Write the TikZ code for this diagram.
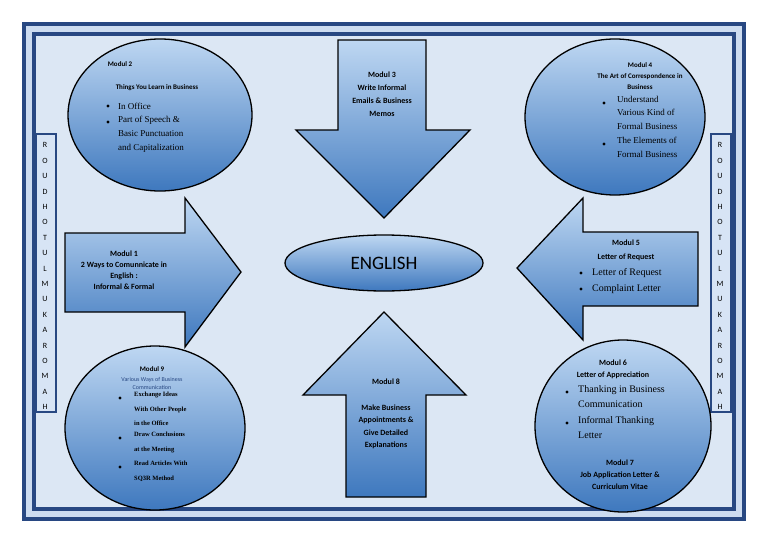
\documentclass[tikz,border=0pt]{standalone}
\usepackage{fontspec}
\usetikzlibrary{shapes.geometric}
\setmainfont{Liberation Serif}
\newfontfamily\calf{Carlito}
\definecolor{frm}{RGB}{40,72,130}
\definecolor{band}{RGB}{205,220,240}
\definecolor{bgc}{RGB}{220,231,244}
\definecolor{gtop}{RGB}{190,215,242}
\definecolor{gbot}{RGB}{62,120,190}
\definecolor{bar}{RGB}{215,228,245}
\begin{document}
\begin{tikzpicture}[x=1pt,y=-1pt,
 shp/.style={draw=black,line width=1.3pt,top color=gtop,bottom color=gbot},
 bl/.style={fill=black,circle,inner sep=1.1pt}]
\useasboundingbox (0,0) rectangle (768,543);
\fill[white] (0,0) rectangle (768,543);
\fill[frm] (22,22) rectangle (746,521);
\fill[band] (26,26) rectangle (742,517);
\fill[frm] (32,32) rectangle (736,511);
\fill[bgc] (36,36) rectangle (732,507);
% side bars
\foreach \xx/\nm in {35/lb,710/rb}{
 \node[draw=frm,line width=1.6pt,fill=bar,minimum width=20,minimum height=278,anchor=north west,inner sep=0] (\nm) at (\xx,133) {};
 \foreach [count=\i] \c in {R,O,U,D,H,O,T,U,L,M,U,K,A,R,O,M,A,H}
  \node[font=\calf\fontsize{8}{9}\selectfont] at (\xx+10,130+\i*15.4) {\c};
}
% circles
\draw[shp] (160,115) ellipse [x radius=92,y radius=76];
\draw[shp] (615,117) ellipse [x radius=90,y radius=78];
\draw[shp] (155,428) ellipse [x radius=90,y radius=82];
\draw[shp] (623,426) ellipse [x radius=88,y radius=86];
% arrows
\draw[shp] (338,40)--(426,40)--(426,130)--(470,130)--(384,218)--(296,130)--(338,130)--cycle;
\draw[shp] (346,497)--(426,497)--(426,395)--(466,395)--(384,312)--(303,395)--(346,395)--cycle;
\draw[shp] (65,233)--(185,233)--(185,198)--(241,272)--(185,347)--(185,312)--(65,312)--cycle;
\draw[shp] (698,232)--(583,232)--(583,198)--(517,268)--(583,340)--(583,306)--(698,306)--cycle;
% center
\node[draw=black,line width=1.3pt,ellipse,top color=gtop,bottom color=gbot,minimum width=198,minimum height=56,font=\calf\fontsize{19}{20}\selectfont] (eng) at (384,263) {ENGLISH};
% texts
\begin{scope}[every node/.style={align=center,inner sep=0}]
\node[font=\calf\bfseries\fontsize{7}{8}\selectfont] (m2) at (120,64) {Modul 2};
\node[font=\calf\bfseries\fontsize{7}{8}\selectfont] (m2t) at (157,88) {Things You Learn in Business};
\node[bl] at (108,106){};\node[anchor=west,font=\fontsize{9}{11}\selectfont] at (118,106){In Office};
\node[bl] at (108,122){};\node[anchor=north west,align=left,font=\fontsize{9}{14}\selectfont] at (118,116){Part of Speech \&\\Basic Punctuation\\and Capitalization};
\node[font=\calf\bfseries\fontsize{8}{13}\selectfont] (m3) at (382,94) {Modul 3\\Write Informal\\Emails \& Business\\Memos};
\node[font=\calf\bfseries\fontsize{7}{11}\selectfont] (m4) at (640,76) {Modul 4\\The Art of Correspondence in\\Business};
\node[bl] at (604,103){};\node[anchor=north west,align=left,font=\fontsize{9}{13.5}\selectfont] at (617,96){Understand\\Various Kind of\\Formal Business};
\node[bl] at (604,144){};\node[anchor=north west,align=left,font=\fontsize{9}{13.5}\selectfont] at (617,137){The Elements of\\Formal Business};
\node[font=\calf\bfseries\fontsize{8}{11}\selectfont] (m1) at (124,270) {Modul 1\\2 Ways to Comunnicate in\\English :\\Informal \& Formal};
\node[font=\calf\bfseries\fontsize{8}{9}\selectfont] (m5) at (626,243) {Modul 5};
\node[font=\calf\bfseries\fontsize{8}{9}\selectfont] at (626,257) {Letter of Request};
\node[bl] at (581,273){};\node[anchor=west,font=\fontsize{10}{12}\selectfont] at (592,273){Letter of Request};
\node[bl] at (581,289){};\node[anchor=west,font=\fontsize{10}{12}\selectfont] at (592,289){Complaint Letter};
\node[font=\calf\bfseries\fontsize{7}{8}\selectfont] (m9) at (152,369) {Modul 9};
\node[font=\calf\fontsize{6}{8}\selectfont,text=frm] at (152,383) {Various Ways of Business\\Communication};
\node[bl] at (120,398){};\node[anchor=north west,align=left,font=\bfseries\fontsize{6.5}{14.5}\selectfont] at (134,392){Exchange Ideas\\With Other People\\in the Office};
\node[bl] at (120,438){};\node[anchor=north west,align=left,font=\bfseries\fontsize{6.5}{14.5}\selectfont] at (134,432){Draw Conclusions\\at the Meeting};
\node[bl] at (120,467){};\node[anchor=north west,align=left,font=\bfseries\fontsize{6.5}{14.5}\selectfont] at (134,461){Read Articles With\\SQ3R Method};
\node[font=\calf\bfseries\fontsize{8}{9}\selectfont] (m8) at (386,382) {Modul 8};
\node[font=\calf\bfseries\fontsize{8}{12.5}\selectfont] at (386,427) {Make Business\\Appointments \&\\Give Detailed\\Explanations};
\node[font=\calf\bfseries\fontsize{8}{12}\selectfont] (m6) at (613,369) {Modul 6\\Letter of Appreciation};
\node[bl] at (567,392){};\node[anchor=north west,align=left,font=\fontsize{10}{15}\selectfont] at (578,385){Thanking in Business\\Communication};
\node[bl] at (567,423){};\node[anchor=north west,align=left,font=\fontsize{10}{15}\selectfont] at (578,416){Informal Thanking\\Letter};
\node[font=\calf\bfseries\fontsize{8}{12}\selectfont] (m7) at (620,475) {Modul 7\\Job Application Letter \&\\Curriculum Vitae};
\end{scope}
\end{tikzpicture}
\end{document}
